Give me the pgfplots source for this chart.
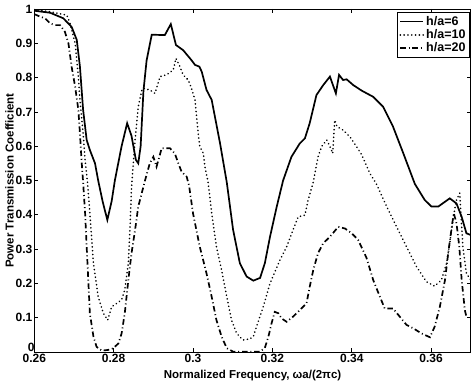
\documentclass[border=0pt]{standalone}
\usepackage{pgfplots}
\pgfplotsset{compat=1.18}
\usepackage{fontspec}
\setmainfont{Liberation Sans}
\begin{document}
\begin{tikzpicture}
\begin{axis}[
  name=ax,
  scale only axis,
  width=436.5pt, height=343pt,
  xmin=0.26, xmax=0.37, ymin=0, ymax=1,
  xtick={0.26,0.28,0.3,0.32,0.34,0.36},
  xticklabels={0.26,0.28,0.3,0.32,0.34,0.36},
  ytick={0.1,0.2,0.3,0.4,0.5,0.6,0.7,0.8,0.9,1},
  yticklabels={0.1,0.2,0.3,0.4,0.5,0.6,0.7,0.8,0.9,1},
  extra y ticks={0},
  extra y tick labels={0},
  extra y tick style={yticklabel style={yshift=5pt, inner sep=1pt}},
  tick align=inside,
  major tick length=4pt,
  tick style={black, line width=0.6pt},
  axis line style={line width=0.9pt},
  every tick label/.append style={font=\fontsize{12}{13}\selectfont\bfseries},
  xticklabel style={inner sep=1.5pt},
  yticklabel style={xshift=1.5pt},
  xlabel={Normalized Frequency, ωa/(2πc)},
  ylabel={Power Transmission Coefficient},
  label style={font=\fontsize{11.5}{13}\selectfont\bfseries},
  xlabel style={at={(0.5,0)}, anchor=south, yshift=-29.5pt, inner sep=0pt},
  ylabel style={yshift=-5pt},
  legend style={at={(1,1)}, anchor=north east, xshift=-1pt, yshift=-3pt,
    draw=black, line width=0.6pt, font=\fontsize{12.5}{14}\selectfont\bfseries,
    inner sep=2pt, row sep=-1.5pt},
  legend image code/.code={\draw[#1] (0pt,0pt) -- (23pt,0pt);},
  legend cell align=left,
]
\addplot[black, line width=1.7pt] coordinates {
(0.2600,0.995)(0.2640,0.989)(0.2673,0.973)(0.2694,0.948)(0.2707,0.910)
(0.2715,0.832)(0.2723,0.706)(0.2732,0.618)(0.2740,0.589)(0.2753,0.550)
(0.2761,0.500)(0.2772,0.440)(0.2784,0.385)(0.2795,0.440)(0.2803,0.500)
(0.2820,0.600)(0.2834,0.667)(0.2845,0.630)(0.2856,0.560)(0.2862,0.550)
(0.2868,0.600)(0.2875,0.760)(0.2883,0.850)(0.2896,0.925)(0.2929,0.924)
(0.2944,0.956)(0.2957,0.895)(0.2975,0.880)(0.2996,0.851)(0.3005,0.837)
(0.3016,0.832)(0.3022,0.817)(0.3034,0.764)(0.3047,0.735)(0.3068,0.609)
(0.3085,0.495)(0.3101,0.356)(0.3118,0.259)(0.3135,0.220)(0.3152,0.208)
(0.3169,0.216)(0.3181,0.259)(0.3194,0.336)(0.3211,0.424)(0.3227,0.500)
(0.3248,0.569)(0.3269,0.608)(0.3282,0.623)(0.3294,0.667)(0.3311,0.749)
(0.3328,0.778)(0.3345,0.803)(0.3360,0.754)(0.3368,0.808)(0.3378,0.793)
(0.3387,0.795)(0.3404,0.778)(0.3425,0.762)(0.3454,0.744)(0.3479,0.715)
(0.3504,0.657)(0.3530,0.579)(0.3559,0.490)(0.3584,0.443)(0.3601,0.424)
(0.3618,0.424)(0.3647,0.448)(0.3664,0.433)(0.3677,0.394)(0.3689,0.346)
(0.3700,0.341)
};
\addlegendentry{h/a=6}
\addplot[black, line width=1.8pt, line cap=round, dash pattern=on 0.01pt off 3.8pt] coordinates {
(0.2600,0.998)(0.2640,0.992)(0.2682,0.982)(0.2690,0.958)(0.2703,0.900)
(0.2711,0.803)(0.2715,0.735)(0.2723,0.638)(0.2728,0.560)(0.2734,0.495)
(0.2740,0.405)(0.2749,0.259)(0.2761,0.161)(0.2774,0.113)(0.2785,0.093)
(0.2795,0.132)(0.2808,0.142)(0.2820,0.152)(0.2828,0.181)(0.2837,0.259)
(0.2841,0.356)(0.2845,0.480)(0.2854,0.618)(0.2862,0.715)(0.2871,0.764)
(0.2875,0.769)(0.2891,0.764)(0.2904,0.754)(0.2917,0.803)(0.2933,0.808)
(0.2950,0.822)(0.2957,0.856)(0.2967,0.832)(0.2975,0.808)(0.2988,0.793)
(0.2996,0.769)(0.3005,0.735)(0.3009,0.686)(0.3013,0.638)(0.3017,0.599)
(0.3026,0.579)(0.3030,0.540)(0.3038,0.495)(0.3047,0.405)(0.3059,0.307)
(0.3072,0.239)(0.3085,0.161)(0.3097,0.093)(0.3110,0.054)(0.3126,0.035)
(0.3143,0.038)(0.3152,0.045)(0.3160,0.074)(0.3177,0.132)(0.3194,0.200)
(0.3219,0.268)(0.3236,0.307)(0.3252,0.356)(0.3265,0.394)(0.3282,0.399)
(0.3290,0.443)(0.3303,0.495)(0.3315,0.569)(0.3324,0.599)(0.3337,0.618)
(0.3345,0.599)(0.3352,0.579)(0.3357,0.676)(0.3363,0.657)(0.3378,0.647)
(0.3395,0.628)(0.3412,0.599)(0.3425,0.575)(0.3446,0.520)(0.3462,0.490)
(0.3488,0.424)(0.3513,0.365)(0.3538,0.307)(0.3563,0.249)(0.3588,0.205)
(0.3609,0.192)(0.3626,0.210)(0.3639,0.259)(0.3647,0.317)(0.3656,0.394)
(0.3664,0.443)(0.3672,0.463)(0.3680,0.307)(0.3689,0.229)(0.3700,0.210)
};
\addlegendentry{h/a=10}
\addplot[black, line width=1.7pt, dash pattern=on 5.5pt off 2.8pt on 1pt off 2.8pt] coordinates {
(0.2600,0.985)(0.2614,0.978)(0.2627,0.973)(0.2640,0.958)(0.2652,0.953)
(0.2665,0.953)(0.2677,0.934)(0.2686,0.900)(0.2694,0.832)(0.2703,0.773)
(0.2711,0.706)(0.2715,0.638)(0.2719,0.560)(0.2723,0.495)(0.2728,0.405)
(0.2732,0.307)(0.2736,0.210)(0.2740,0.113)(0.2749,0.045)(0.2757,0.015)
(0.2770,0.004)(0.2786,0.006)(0.2799,0.011)(0.2812,0.025)(0.2820,0.054)
(0.2828,0.113)(0.2837,0.210)(0.2845,0.288)(0.2854,0.356)(0.2862,0.424)
(0.2875,0.482)(0.2879,0.500)(0.2891,0.550)(0.2900,0.569)(0.2908,0.540)
(0.2921,0.594)(0.2942,0.594)(0.2954,0.579)(0.2963,0.550)(0.2971,0.526)
(0.2984,0.511)(0.2990,0.485)(0.3000,0.404)(0.3017,0.307)(0.3034,0.229)
(0.3047,0.161)(0.3059,0.093)(0.3072,0.045)(0.3085,0.011)(0.3101,0.001)
(0.3169,0.001)(0.3181,0.012)(0.3190,0.045)(0.3198,0.084)(0.3206,0.117)
(0.3215,0.113)(0.3223,0.098)(0.3236,0.088)(0.3252,0.103)(0.3269,0.122)
(0.3286,0.142)(0.3294,0.190)(0.3303,0.239)(0.3315,0.288)(0.3328,0.317)
(0.3345,0.336)(0.3366,0.365)(0.3383,0.360)(0.3400,0.346)(0.3416,0.327)
(0.3437,0.275)(0.3454,0.210)(0.3471,0.161)(0.3483,0.127)(0.3504,0.127)
(0.3521,0.103)(0.3538,0.079)(0.3555,0.069)(0.3576,0.054)(0.3597,0.043)
(0.3609,0.074)(0.3622,0.132)(0.3635,0.210)(0.3643,0.288)(0.3651,0.356)
(0.3657,0.405)(0.3664,0.375)(0.3671,0.307)(0.3677,0.210)(0.3685,0.122)
(0.3689,0.103)
};
\addlegendentry{h/a=20}
\end{axis}
\pgfresetboundingbox
\path[use as bounding box] ([xshift=-34.3pt,yshift=-30pt]ax.south west) rectangle ([xshift=3.2pt,yshift=9pt]ax.north east);
\end{tikzpicture}
\end{document}
